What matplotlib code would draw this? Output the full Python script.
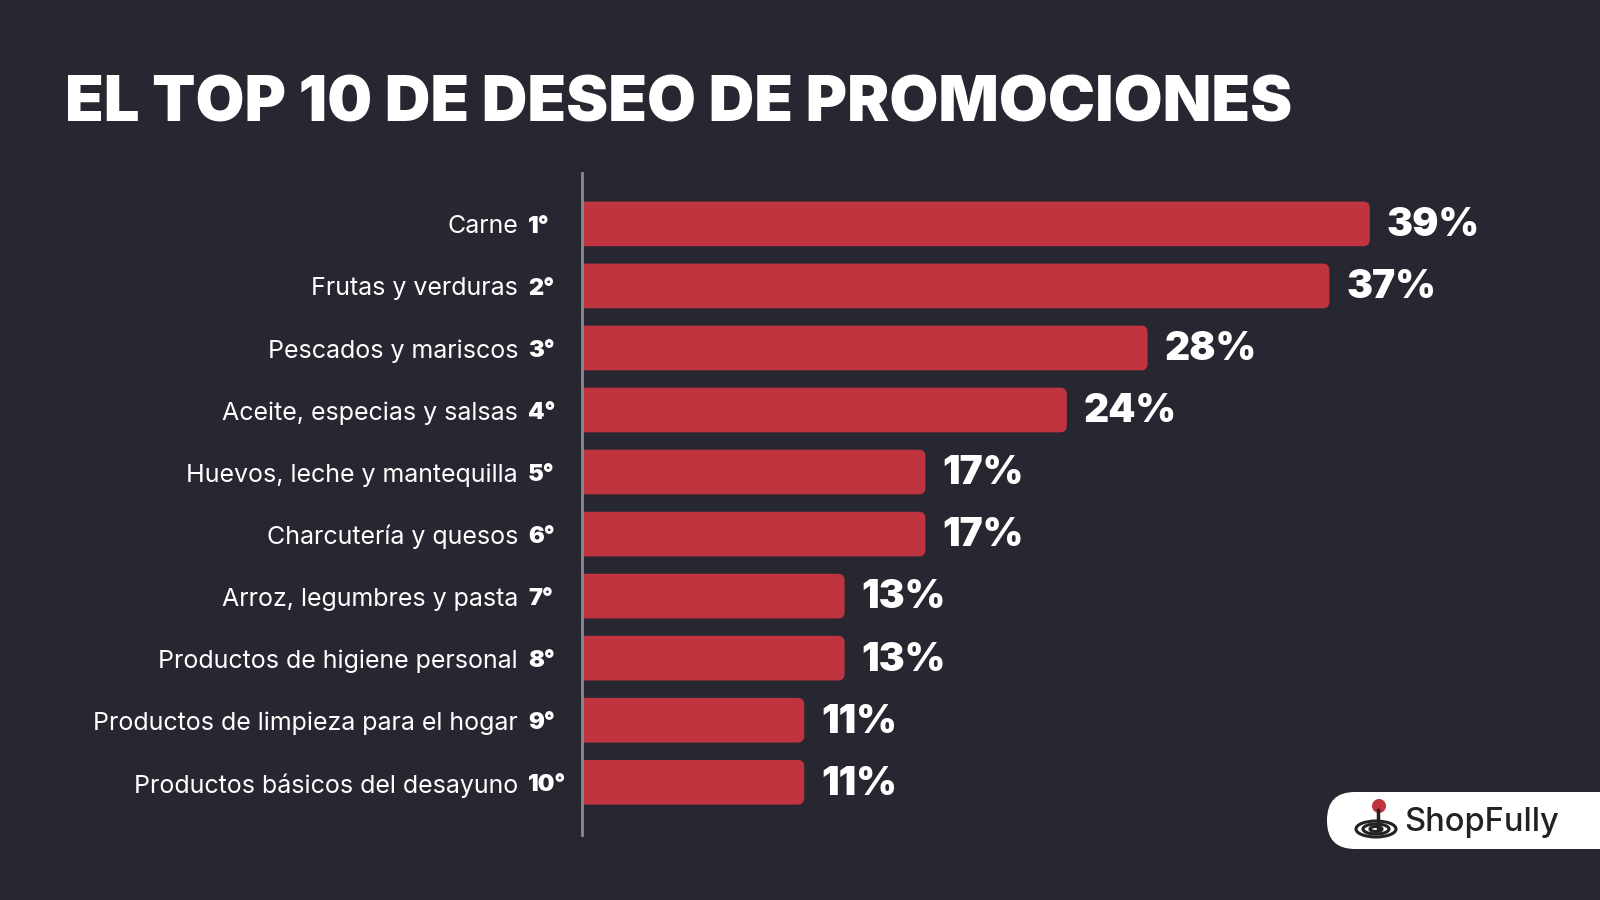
import matplotlib.pyplot as plt
from matplotlib.patches import FancyBboxPatch, Circle, Ellipse
from matplotlib.lines import Line2D

categories = ["Carne", "Frutas y verduras", "Pescados y mariscos", "Aceite, especias y salsas",
              "Huevos, leche y mantequilla", "Charcutería y quesos", "Arroz, legumbres y pasta",
              "Productos de higiene personal", "Productos de limpieza para el hogar",
              "Productos básicos del desayuno"]
ranks = ["1°", "2°", "3°", "4°", "5°", "6°", "7°", "8°", "9°", "10°"]
values = [39, 37, 28, 24, 17, 17, 13, 13, 11, 11]

bg = "#262730"
red = "#C0343F"
font = "Inter"

fig = plt.figure(figsize=(16, 9), dpi=100, facecolor=bg)

# title
fig.text(65 / 1600, 1 - 122 / 900, "EL TOP 10 DE DESEO DE PROMOCIONES", color="white",
         fontsize=45.5, fontweight="black", family=font, ha="left", va="baseline")

ax = fig.add_axes([582 / 1600, 1 - 835 / 900, 1010 / 1600, 662 / 900])
ax.set_facecolor(bg)
ax.set_xlim(0, 50)
ax.set_ylim(9.85, -0.82)

ypos = list(range(len(categories)))
bars = ax.barh(ypos, values, height=0.72, left=0, color=red)
# swap plain bars for rounded ones (left end hidden under the axis)
for b in bars:
    x0, y0, w, h = b.get_x(), b.get_y(), b.get_width(), b.get_height()
    b.set_visible(False)
    p = FancyBboxPatch((x0 - 1, y0), w + 1, h, boxstyle="round,pad=0,rounding_size=0.32",
                       mutation_aspect=0.326, facecolor=red, edgecolor="none")
    ax.add_patch(p)

for y, v in zip(ypos, values):
    ax.text(v + 0.85, y + 0.03, f"{v}%", color="white", fontsize=28, fontweight="black",
            family=font, ha="left", va="center")

ax.set_xticks([])
ax.set_yticks([])
for s in ["top", "right", "bottom"]:
    ax.spines[s].set_visible(False)
ax.spines["left"].set_color("#8a8b92")
ax.spines["left"].set_linewidth(2)

# category labels and ranks
for y, c, r in zip(ypos, categories, ranks):
    ax.annotate(c, (0, y), xytext=(-64, -3), textcoords="offset pixels", color="white",
                fontsize=18, family=font, ha="right", va="center", annotation_clip=False)
    ax.annotate(r, (0, y), xytext=(-54, -3), textcoords="offset pixels", color="white",
                fontsize=17, fontweight="black", family=font, ha="left", va="center",
                annotation_clip=False)

# ShopFully badge
lax = fig.add_axes([0, 0, 1, 1], facecolor="none")
lax.set_xlim(0, 1600)
lax.set_ylim(900, 0)
lax.axis("off")
lax.add_patch(FancyBboxPatch((1327, 792), 320, 57, boxstyle="round,pad=0,rounding_size=28",
                             facecolor="white", edgecolor="none"))
for w, hh in [(40, 16), (26, 10), (12, 5)]:
    lax.add_patch(Ellipse((1376, 829), w, hh, facecolor="none", edgecolor="#222", lw=2.2))
lax.add_line(Line2D([1378, 1378], [810, 829], color="#222", lw=2.5))
lax.add_patch(Circle((1379, 806), 7, facecolor=red, edgecolor="none"))
lax.text(1404, 822, "ShopFully", color="#222", fontsize=23.5, fontweight="medium",
         family=font, ha="left", va="center")

fig.savefig("out.png", dpi=100, facecolor=bg)
